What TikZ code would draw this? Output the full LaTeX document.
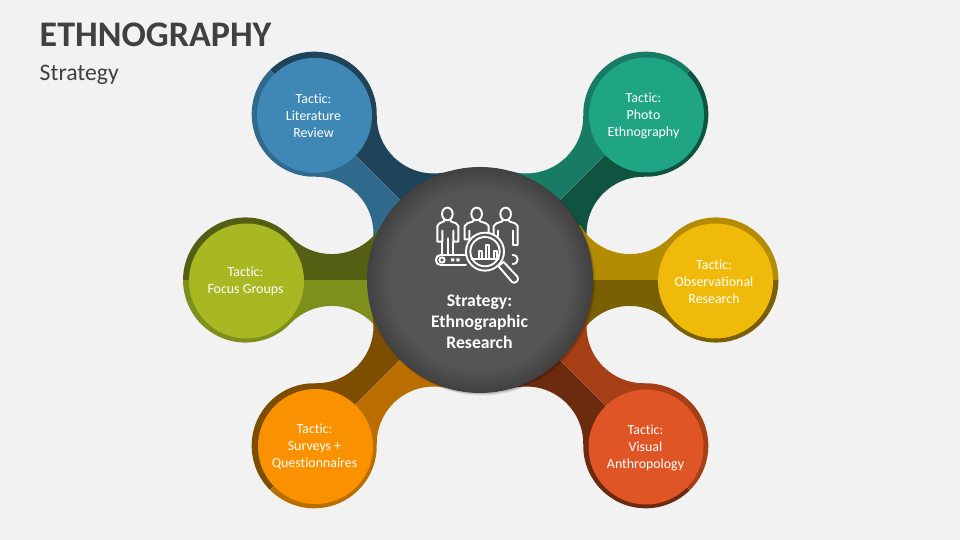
\documentclass[tikz,border=0pt]{standalone}
\usepackage{fontspec}
\setmainfont[Ligatures=NoCommon]{Carlito}
\definecolor{bg}{HTML}{F2F2F2}
\definecolor{ink}{HTML}{404040}
\definecolor{maingrey}{HTML}{555555}
\definecolor{mainedge}{HTML}{414141}
\tikzset{
  tactic/.style={text=white,align=center,font=\fontsize{13.9}{17}\selectfont,inner sep=0pt},
  centretext/.style={text=white,align=center,font=\fontsize{17.7}{21}\bfseries\selectfont,inner sep=0pt},
  iconline/.style={draw=white,line width=1.9pt,line join=round,line cap=round},
}
% half of one arm: rotation, side (+1/-1), shift along the axis, colour
\newcommand{\halfarm}[4]{%
  \fill[#4,shift={(480,260)},rotate=#1,shift={(#3,0)},yscale=#2]
    (0,0) -- (98.6,55.1) arc[start angle=209.2,end angle=316.1,radius=57]
    arc[start angle=136.1,end angle=0,radius=62.5] -- cycle;}
\begin{document}
\begin{tikzpicture}[x=1pt,y=1pt]
\useasboundingbox (0,0) rectangle (960,540);
\fill[bg] (0,0) rectangle (960,540);

\node[anchor=west,text=ink,inner sep=0pt,font=\fontsize{36}{40}\bfseries\selectfont] (title) at (39.5,505.5) {ETHNOGRAPHY};
\node[anchor=west,text=ink,inner sep=0pt,font=\fontsize{23.7}{26}\selectfont] (subtitle) at (39.5,465) {Strategy};

% arms
\definecolor{tl}{HTML}{2F6A8C}\definecolor{td}{HTML}{1F4359}
\definecolor{fl}{HTML}{7F8F1B}\definecolor{fd}{HTML}{555F13}
\definecolor{pl}{HTML}{187C65}\definecolor{pd}{HTML}{0F5341}
\definecolor{ol}{HTML}{B48C03}\definecolor{od}{HTML}{7A6004}
\definecolor{vl}{HTML}{A63F16}\definecolor{vd}{HTML}{6C2A0F}
\definecolor{sl}{HTML}{BB6E00}\definecolor{sd}{HTML}{7D4E00}
\halfarm{135}{1}{0}{tl}\halfarm{135}{-1}{0}{td}
\halfarm{180}{1}{0}{fl}\halfarm{180}{-1}{0}{fd}
\halfarm{45}{1}{0}{pl}\halfarm{45}{-1}{0}{pd}
\halfarm{0}{1}{1.5}{ol}\halfarm{0}{-1}{1.5}{od}
\halfarm{-45}{1}{0}{vl}\halfarm{-45}{-1}{0}{vd}
\halfarm{-135}{1}{0}{sl}\halfarm{-135}{-1}{0}{sd}

% discs with labels
\definecolor{tf}{HTML}{3F88B5}
\definecolor{ff}{HTML}{A8B822}
\definecolor{pf}{HTML}{1FA584}
\definecolor{of}{HTML}{F0BA0A}
\definecolor{vf}{HTML}{DF5525}
\definecolor{sf}{HTML}{FA9200}
\fill[tf] (314.5,424.6) circle[radius=57.5];
\fill[ff] (246.5,259) circle[radius=57.5];
\fill[pf] (646.5,425) circle[radius=57.5];
\fill[of] (715.5,259) circle[radius=57.5];
\fill[vf] (646,93) circle[radius=57.5];
\fill[sf] (315.5,93.5) circle[radius=57.5];

\node[tactic] (lit) at (313.5,424) {Tactic:\\Literature\\Review};
\node[tactic] (foc) at (245.5,258.5) {Tactic:\\Focus Groups};
\node[tactic] (pho) at (643.5,424) {Tactic:\\Photo\\Ethnography};
\node[tactic] (obs) at (714,258) {Tactic:\\Observational\\Research};
\node[tactic] (vis) at (645.5,92) {Tactic:\\Visual\\Anthropology};
\node[tactic] (sur) at (314.5,93) {Tactic:\\Surveys +\\Questionnaires};

% central disc: soft shadow, then a ramp from the dark rim to the lighter middle
\fill[black,opacity=.08] (482,258) circle[radius=113.5];
\fill[black,opacity=.15] (481.2,258.8) circle[radius=113.2];
\foreach \i in {0,...,20}{
  \pgfmathsetmacro\rr{113-\i*1.1}
  \pgfmathsetmacro\mm{\i*100/20}
  \fill[maingrey!\mm!mainedge] (480,260) circle[radius=\rr];
}
\node[centretext] (centre) at (479.5,218.5) {Strategy:\\Ethnographic\\Research};

% icon, in the pixels of a 3x view of the reference
\begin{scope}[shift={(430,340)},x=0.3333pt,y=-0.3333pt]
  % person 1
  \draw[iconline] (52,42) ellipse[x radius=16,y radius=19];
  \draw[iconline] (42,60) -- (42,64) -- (28,70) -- (22,78) -- (22,125) -- (37,125) -- (37,92);
  \draw[iconline] (37,125) -- (37,165);
  \draw[iconline] (62,60) -- (62,64) -- (78,70) -- (85,78) -- (85,125) -- (70,125) -- (70,92);
  \draw[iconline] (70,125) -- (70,165);
  \draw[iconline] (53,115) -- (53,165);
  % conveyor
  \draw[iconline,rounded corners=4.5pt] (108,165) -- (18,165) -- (18,195) -- (108,195);
  \draw[iconline] (36,180) circle[radius=8];
  \fill[white] (63,175) rectangle (73,184) (79,175) rectangle (89,184);
  \draw[iconline] (248,165) .. controls (268,165) and (268,192) .. (248,192);
  % person 2
  \draw[iconline] (140,42) ellipse[x radius=16,y radius=19];
  \draw[iconline] (130,60) -- (130,64) -- (112,70) -- (104,78) -- (104,118) -- (118,118) -- (118,92);
  \draw[iconline] (150,60) -- (150,64) -- (168,70) -- (176,78) -- (176,105);
  % person 3
  \draw[iconline] (227,42) ellipse[x radius=16,y radius=19];
  \draw[iconline] (217,60) -- (217,64) -- (199,70) -- (191,78) -- (191,108);
  \draw[iconline] (205,92) -- (205,108);
  \draw[iconline] (237,60) -- (237,64) -- (255,70) -- (263,78) -- (263,135) -- (249,135) -- (249,92);
  % magnifier
  \draw[iconline,fill=maingrey] (205,198) -- (246,246) .. controls (255,254) and (270,240) .. (262,230) -- (221,186) -- cycle;
  \draw[iconline,fill=maingrey] (165,155) circle[radius=57];
  \draw[iconline] (165,155) circle[radius=44];
  \draw[iconline] (124,178) -- (206,178);
  \draw[iconline] (146,176) -- (146,152) -- (155,152) -- (155,176);
  \draw[iconline] (168,176) -- (168,135) -- (178,135) -- (178,176);
  \draw[iconline] (192,176) -- (192,152) -- (201,152) -- (201,176);
\end{scope}
\end{tikzpicture}
\end{document}
